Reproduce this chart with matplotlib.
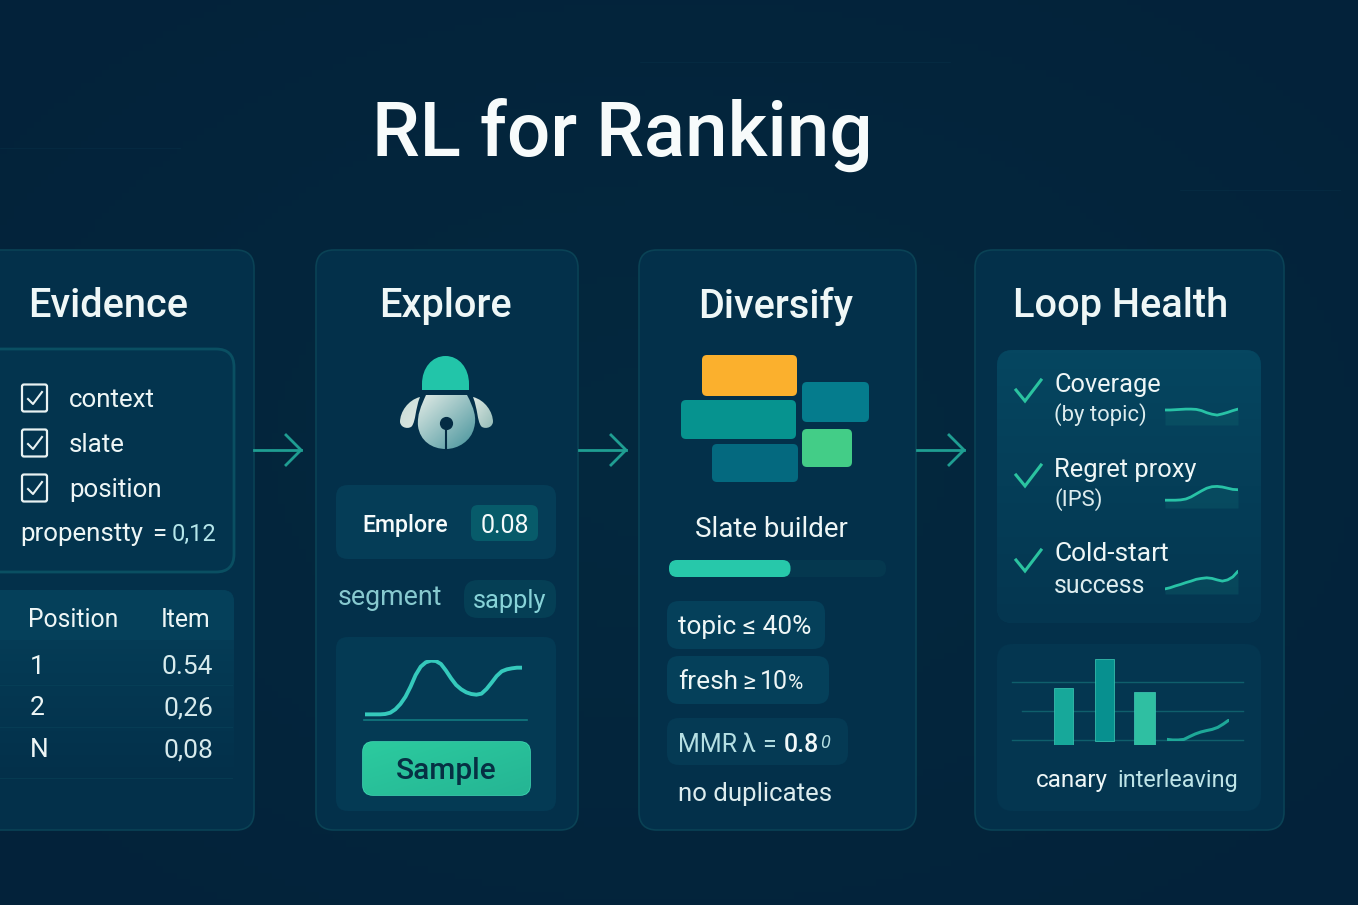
#!/usr/bin/env python

from matplotlib import use
use( 'agg' )
import matplotlib.pyplot as plt
from matplotlib.patches import FancyBboxPatch, PathPatch, Rectangle
from matplotlib.path import Path
from matplotlib.colors import LinearSegmentedColormap, to_rgb
import numpy as np

W, H = 1358, 905

# chart values
title = "RL for Ranking"
panel_titles = ["Evidence", "Explore", "Diversify", "Loop Health"]
evidence_checks = ["context", "slate", "position"]
table_positions = ["1", "2", "N"]
table_items = ["0.54", "0,26", "0,08"]
density_curve = [0.094, 0.094, 0.094, 0.094, 0.10, 0.122, 0.178, 0.267, 0.389, 0.556, 0.75,
                 0.889, 0.961, 0.989, 0.983, 0.933, 0.822, 0.694, 0.583, 0.511, 0.461,
                 0.433, 0.422, 0.439, 0.517, 0.622, 0.733, 0.811, 0.844, 0.861, 0.872, 0.872]
slate_progress = [0.56]
health_labels = [("Coverage", "(by topic)"), ("Regret proxy", "(IPS)"), ("Cold-start", "success")]
coverage_line = [.50, .50, .51, .52, .53, .53, .52, .48, .41, .36, .33, .37, .42, .48, .53]
regret_line = [.26, .26, .26, .27, .30, .37, .47, .57, .66, .71, .72, .70, .66, .62, .61]
coldstart_line = [.17, .21, .27, .32, .38, .43, .49, .52, .54, .52, .47, .43, .47, .57, .76]
canary_bars = [57, 82, 53]
canary_bottoms = [0, 4, 0]
canary_line = [.03, 0, 0, .03, .17, .30, .40, .47, .53, .63, .80, 1]

plt.rcParams['font.family'] = ['Roboto', 'DejaVu Sans']

fig = plt.figure( figsize=(W/100, H/100), dpi=100 )
ax = fig.add_axes( [0, 0, 1, 1] )
ax.set_axis_off()


def inset( x0, y0, x1, y1 ):
    # axes placed by pixel box, y measured from the top
    a = fig.add_axes( [x0/W, 1-y1/H, (x1-x0)/W, (y1-y0)/H] )
    a.set_axis_off()
    a.patch.set_alpha( 0 )
    return a


def box( x0, y0, x1, y1, r, fc, ec='none', lw=0, alpha=1, z=2 ):
    p = FancyBboxPatch( (x0+r, y0+r), x1-x0-2*r, y1-y0-2*r,
                        boxstyle="round,pad=%f,rounding_size=%f" % (r, r),
                        fc=fc, ec=ec, lw=lw, alpha=alpha, zorder=z )
    ax.add_patch( p )
    return p


def grad( patch, x0, y0, x1, y1, c0, c1, z=3, diag=True ):
    cm = LinearSegmentedColormap.from_list( 'g', [c0, c1] )
    u, v = np.meshgrid( np.linspace(0, 1, 60), np.linspace(0, 1, 60) )
    im = ax.imshow( (u+v)/2 if diag else v, extent=(x0, x1, y1, y0), cmap=cm,
                    aspect='auto', zorder=z, interpolation='bilinear' )
    im.set_clip_path( patch )
    return im


def txt( x, y, s, size, color='#eef6f6', ha='left', weight='normal', z=6, style='normal' ):
    # +2: the va='center' box sits a little above the visual centre
    ax.text( x, y+2, s, fontsize=size, color=color, ha=ha, va='center',
             weight=weight, zorder=z, style=style )


# background
u, v = np.meshgrid( np.linspace(-1, 1, 200), np.linspace(-1, 1, 140) )
d = np.clip( np.sqrt( u**2 + v**2 )/1.4, 0, 1 )
c0, c1 = np.array( to_rgb('#04293f') ), np.array( to_rgb('#03223a') )
ax.imshow( c0 + (c1-c0)*d[..., None], extent=(0, W, H, 0), aspect='auto', zorder=0 )

for x0, x1, y in [(0, 180, 148), (1180, 1340, 190), (640, 950, 62)]:
    ax.plot( [x0, x1], [y, y], color='#0a3a50', lw=0.6, alpha=0.35, zorder=1 )

txt( 372, 133, title, 55, '#f7fbfb', weight='medium' )

# panels
panel_x = [(-20, 254), (316, 578), (639, 916), (975, 1284)]
title_x = [108, 445, 776, 1121]
for (x0, x1), name, tx in zip( panel_x, panel_titles, title_x ):
    p = box( x0, 250, x1, 830, 18, '#03304a', '#0a4255', 1.2 )
    grad( p, x0, 250, x1, 830, '#04364e', '#032c44', z=1.5, diag=False )
    txt( tx, 304, name, 28.6, '#eff7f7', ha='center', weight='medium' )

# arrows between panels
for x0 in [254, 579, 917]:
    ax.plot( [x0, x0+47], [450, 450], color='#1f9e92', lw=2, zorder=5 )
    ax.plot( [x0+32, x0+47, x0+32], [435, 450, 465], color='#1f9e92', lw=2,
             zorder=5, solid_joinstyle='miter' )

# Evidence
box( -20, 349, 234, 572, 18, '#03344e', '#0a4f62', 2 )
for i, name in enumerate( evidence_checks ):
    y = [398, 443, 488][i]
    box( 22, y-13.5, 47, y+13.5, 2, 'none', '#e8f2f2', 1.6, z=5 )
    ax.plot( [28, 33, 42], [y+1, y+6, y-6], color='#e8f2f2', lw=1.5, zorder=6 )
    txt( 69, y, name, 18.6 )
txt( 20, 532, "propenstty", 18.6 )
txt( 152, 532, "=", 18.6 )
txt( 172, 532, "0,12", 17, '#b5e6ea' )

p = box( -20, 590, 234, 780, 12, '#03304a' )
grad( p, -20, 590, 234, 780, '#06405a', '#03304a', z=2.5, diag=False )
ax.add_patch( Rectangle( (-20, 590), 254, 50, fc='#05405a', ec='none', zorder=2.8 ) ).set_clip_path( p )
txt( 28, 618, "Position", 17.8 )
txt( 210, 618, "Item", 17.8, ha='right' )
for y, pos, item in zip( [665, 706, 748], table_positions, table_items ):
    txt( 30, y, pos, 19 )
    txt( 213, y, item, 19, '#d7eaec', ha='right' )
for y in [685, 727, 778]:
    ax.plot( [0, 232], [y, y], color='#0b4a5e', lw=0.8, alpha=0.4, zorder=4 )

# Explore icon
head = Path( [(422, 390), (422, 384), (422, 368), (432, 356), (445.5, 356), (459, 356), (469, 368),
              (469, 384), (469, 390), (422, 390)],
             [1, 2, 4, 4, 4, 4, 4, 4, 2, 79] )
ax.add_patch( PathPatch( head, fc='#22c5a9', ec='none', zorder=4 ) )
body = Path( [(426, 395), (467, 395), (474, 408), (477, 418), (474, 428), (471, 441), (458, 449), (446, 449),
              (432, 449), (420, 441), (418, 426), (417, 415), (421, 406), (426, 395), (426, 395)],
             [1, 2, 4, 4, 4, 4, 4, 4, 4, 4, 4, 4, 4, 4, 79] )
p = PathPatch( body, fc='none', ec='none', zorder=4 )
ax.add_patch( p )
grad( p, 415, 393, 478, 451, '#e8efe9', '#3f8f98', z=4 )
larm = Path( [(420, 397), (408, 400), (400, 412), (400, 422), (401, 429), (410, 429), (412, 426), (416, 420), (415, 410), (420, 397), (420, 397)],
             [1, 4, 4, 4, 4, 4, 4, 4, 4, 4, 79] )
p = PathPatch( larm, fc='none', ec='none', zorder=4 )
ax.add_patch( p )
grad( p, 398, 397, 421, 430, '#c8dcd6', '#dfe9e3', z=4 )
rarm = Path( [(473, 397), (485, 400), (493, 412), (493, 422), (492, 429), (483, 429), (481, 426), (477, 420), (478, 410), (473, 397), (473, 397)],
             [1, 4, 4, 4, 4, 4, 4, 4, 4, 4, 79] )
p = PathPatch( rarm, fc='none', ec='none', zorder=4 )
ax.add_patch( p )
grad( p, 472, 397, 495, 430, '#dfe9e3', '#8fb9b5', z=4 )
ax.plot( [446], [423], 'o', ms=8.5, color='#042c44', zorder=5 )
ax.plot( [446, 446], [423, 449], color='#042c44', lw=1.5, zorder=5 )

# Explore controls
box( 336, 485, 556, 559, 12, '#053d57' )
txt( 362, 523, "Emplore", 16.7, '#f6fbfb', weight='medium' )
box( 471, 505, 538, 541, 7, '#075b6a' )
txt( 504.5, 524, "0.08", 18, '#f6fbfb', ha='center' )
txt( 338, 595, "segment", 19.3, '#87c9cf' )
box( 464, 580, 556, 618, 14, '#053f55' )
txt( 510, 599, "sapply", 18.3, '#87d3d8', ha='center' )

box( 336, 637, 556, 811, 12, '#043a54' )
ad = inset( 365, 660, 522, 720 )
ad.plot( density_curve, color='#35c9bc', lw=2.8, solid_capstyle='round', solid_joinstyle='round' )
ad.set_xlim( 0, len(density_curve)-1 )
ad.set_ylim( 0, 1 )
ax.plot( [364, 527], [720, 720], color='#127a80', lw=1.2, zorder=5 )
p = box( 363, 742, 530, 795, 10, '#27c49c', '#3dd6b0', 1.2, z=4 )
grad( p, 363, 742, 530, 795, '#2ccb9f', '#25b594', z=4.5 )
txt( 446, 769, "Sample", 21.5, '#063043', ha='center', weight='medium' )

# Diversify blocks
for x0, y0, x1, y1, c in [(702, 355, 797, 396, '#fbb02d'),
                          (802, 382, 869, 422, '#057c8d'),
                          (681, 400, 796, 439, '#06938f'),
                          (802, 429, 852, 467, '#43cd87'),
                          (712, 444, 798, 482, '#04697f')]:
    box( x0, y0, x1, y1, 5, c, z=4 )
txt( 771.5, 527, "Slate builder", 20, ha='center' )
box( 669, 560, 886, 577, 8, '#05384f' )
box( 669, 560, 669 + 217*slate_progress[0], 577, 8, '#27c8aa', z=3 )

box( 667, 601, 825, 649, 12, '#05405a' )
txt( 678, 625, "topic ≤ 40%", 18.9 )
box( 667, 656, 829, 704, 12, '#05405a' )
txt( 678, 680, "fresh", 18.9 )
txt( 742, 680, "≥", 18 )
txt( 760, 680, "10", 18 )
txt( 788, 681, "%", 15 )
box( 667, 718, 848, 765, 12, '#053a54' )
txt( 678, 743, "MMR", 18, '#b5dfe3' )
txt( 741, 743, "λ", 18, '#b5dfe3' )
txt( 762, 743, "=", 18, '#b5dfe3' )
txt( 784, 743, "0.8", 18, '#f1f8f8', weight='medium' )
txt( 820, 741, "0", 13, '#b5dfe3', style='italic' )
txt( 678, 792, "no duplicates", 18.5, '#dcecee' )

# Loop Health
p = box( 997, 350, 1261, 623, 16, '#053f58' )
grad( p, 997, 350, 1261, 623, '#064660', '#043650', z=2.5, diag=False )
check_y = [390, 475, 560]
line_y = [(395, 425), (478, 508), (564, 594)]
series = [coverage_line, regret_line, coldstart_line]
head_y = [385, 470, 554]
sub_y = [414, 499, 585]
head_size = [18.3, 18.4, 19]
sub_size = [15.8, 15.8, 17.9]
for i, (a, b) in enumerate( health_labels ):
    y = check_y[i]
    ax.plot( [1016, 1025, 1041], [y, y+11, y-10], color='#2bc3a0', lw=2.2, zorder=5,
             solid_joinstyle='miter' )
    txt( 1054, head_y[i]-2, a, head_size[i] )
    txt( 1054, sub_y[i]-1, b, sub_size[i], '#dcecee' )
    y0, y1 = line_y[i]
    s = inset( 1165, y0, 1238, y1 )
    s.fill_between( range(len(series[i])), series[i], 0, color='#0f6a72', alpha=0.3, lw=0 )
    s.plot( series[i], color='#28c2a6', lw=2, solid_capstyle='round' )
    s.set_xlim( 0, len(series[i])-1 )
    s.set_ylim( 0, 1 )

p = box( 997, 644, 1261, 811, 16, '#043650' )
for x0, y in [(1012, 682), (1022, 711), (1012, 740)]:
    ax.plot( [x0, 1243], [y, y], color='#0f5f6c', lw=1, zorder=4 )

bars = inset( 1044, 655, 1165, 745 )
bars.bar( [0, 1, 2], canary_bars, bottom=canary_bottoms, width=[0.47, 0.47, 0.52],
          color=['#17a89a', '#07908f', '#2fbfa2'], ec='#3fcdb8', lw=0.5 )
bars.set_xlim( -0.48, 2.5 )
bars.set_ylim( 0, 90 )

cl = inset( 1167, 719, 1229, 741 )
cl.plot( canary_line, color='#1ea898', lw=2.2, solid_capstyle='round' )
cl.set_xlim( 0, len(canary_line)-1 )
cl.set_ylim( -0.05, 1.05 )

txt( 1036, 778, "canary", 17.5, '#eef6f6' )
txt( 1117, 778, "interleaving", 16.8, '#bfe5e8' )

ax.set_xlim( 0, W )
ax.set_ylim( H, 0 )

plt.savefig( 'out.png', dpi=100 )
